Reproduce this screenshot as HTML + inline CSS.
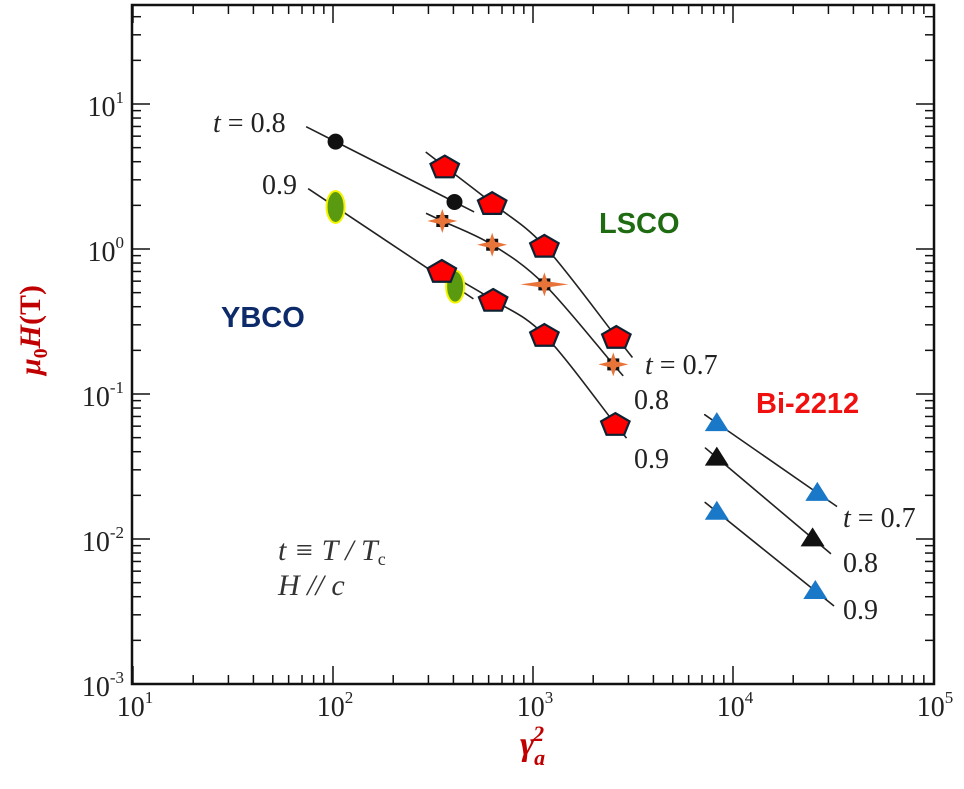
<!DOCTYPE html>
<html><head><meta charset="utf-8"><style>
body{margin:0;background:#fff;}
svg text{font-family:"Liberation Serif",serif;}
</style></head><body>
<svg id="chart" width="964" height="784" viewBox="0 0 964 784" xmlns="http://www.w3.org/2000/svg">
<rect x="0" y="0" width="964" height="784" fill="#fff"/>
<g id="axes"></g>
<g id="curves"></g>
<g id="marks"></g>
<g id="labels">
<text x="213" y="132" font-size="28" font-style="italic" fill="#222">t <tspan font-style="normal">= 0.8</tspan></text>
<text x="262" y="194" font-size="28" fill="#222">0.9</text>
<text x="645" y="374" font-size="28" font-style="italic" fill="#222">t <tspan font-style="normal">= 0.7</tspan></text>
<text x="634" y="409" font-size="28" fill="#222">0.8</text>
<text x="634" y="468" font-size="28" fill="#222">0.9</text>
<text x="843" y="527" font-size="28" font-style="italic" fill="#222">t <tspan font-style="normal">= 0.7</tspan></text>
<text x="843" y="572" font-size="28" fill="#222">0.8</text>
<text x="843" y="619" font-size="28" fill="#222">0.9</text>
<text x="278" y="560" font-size="30" font-style="italic" fill="#333">t ≡ T / T<tspan font-size="18" font-style="normal" dy="5">c</tspan></text>
<text x="278" y="595" font-size="30" font-style="italic" fill="#333">H // c</text>
<text x="599" y="233" font-size="29" font-weight="bold" fill="#1f6b12" style="font-family:'Liberation Sans',sans-serif">LSCO</text>
<text x="221" y="327" font-size="29" font-weight="bold" fill="#0d2a6b" style="font-family:'Liberation Sans',sans-serif">YBCO</text>
<text x="756" y="413" font-size="29" font-weight="bold" fill="#f01010" style="font-family:'Liberation Sans',sans-serif">Bi-2212</text>
<text transform="translate(40,330) rotate(-90)" text-anchor="middle" font-size="30" font-weight="bold" fill="#c00000"><tspan font-style="italic">μ</tspan><tspan font-size="20" dy="7">0</tspan><tspan dy="-7" font-style="italic">H</tspan>(T)</text>
<text x="520" y="755" font-size="34" font-weight="bold" font-style="italic" fill="#c00000">γ<tspan font-size="22" dy="10">a</tspan><tspan font-size="22" dx="-12" dy="-24">2</tspan></text>
</g>
</svg>
<script>
const xDecades=[1,2,3,4,5];
const yDecades=[1,0,-1,-2,-3];
// YBCO
const ybcoX08=[103,405];
const ybcoY08=[5.5,2.11];
const ybcoX09=[103,408];
const ybcoY09=[1.95,0.55];
// LSCO
const lscoX07=[362,625,1140,2610];
const lscoY07=[3.7,2.07,1.05,0.247];
const lscoX08=[352,625,1140,2520];
const lscoY08=[1.56,1.07,0.57,0.16];
const lscoX09=[350,632,1140,2580];
const lscoY09=[0.705,0.445,0.255,0.062];
// Bi-2212
const biX07=[8300,26400];
const biY07=[0.063,0.0208];
const biX08=[8300,25000];
const biY08=[0.0364,0.0101];
const biX09=[8300,25800];
const biY09=[0.0154,0.00438];

const NS="http://www.w3.org/2000/svg";
const X0=133,XPD=200,Y0=104,YPD=145;
const L=132,R=934,T=5,B=684;
function sx(v){return X0+(Math.log10(v)-1)*XPD;}
function sy(v){return Y0+(1-Math.log10(v))*YPD;}
function mk(tag,attrs,parent){const e=document.createElementNS(NS,tag);for(const k in attrs)e.setAttribute(k,attrs[k]);parent.appendChild(e);return e;}
const axes=document.getElementById('axes');
const frame=mk('rect',{x:L,y:T,width:R-L,height:B-T,fill:'none',stroke:'#111','stroke-width':2.5},axes);


for(let d=1;d<5;d++){for(let m=1;m<10;m++){const x=sx(m*Math.pow(10,d));const len=m===1?18:9;
const t1=mk('line',{x1:x,x2:x,y1:B,y2:B-len,stroke:'#111','stroke-width':1.5},axes);


const t2=mk('line',{x1:x,x2:x,y1:T,y2:T+len,stroke:'#111','stroke-width':1.5},axes);

}}
xDecades.forEach(d=>{const t=mk('text',{x:sx(Math.pow(10,d))+2,y:716,'font-size':28,'text-anchor':'middle',fill:'#222'},axes);


t.innerHTML='10<tspan font-size="17" dy="-13">'+d+'</tspan>';});
for(let d=-3;d<2;d++){for(let m=1;m<10;m++){const v=m*Math.pow(10,d);const y=sy(v);if(y<T+1)continue;const len=m===1?18:9;
const t1=mk('line',{x1:L,x2:L+len,y1:y,y2:y,stroke:'#111','stroke-width':1.5},axes);


const t2=mk('line',{x1:R,x2:R-len,y1:y,y2:y,stroke:'#111','stroke-width':1.5},axes);

}}
yDecades.forEach(d=>{const t=mk('text',{x:124,y:sy(Math.pow(10,d))+12,'font-size':28,'text-anchor':'end',fill:'#222'},axes);


t.innerHTML='10<tspan font-size="17" dy="-13">'+d+'</tspan>';});

const curves=document.getElementById('curves');
function curve(xs,ys,extL,extR,name){
 let p=xs.map((x,i)=>[sx(x),sy(ys[i])]);
 const a=p[0],b=p[1],n=p.length,c=p[n-2],e=p[n-1];
 const d1=Math.hypot(b[0]-a[0],b[1]-a[1]),d2=Math.hypot(e[0]-c[0],e[1]-c[1]);
 p.unshift([a[0]-(b[0]-a[0])/d1*extL,a[1]-(b[1]-a[1])/d1*extL]);
 p.push([e[0]+(e[0]-c[0])/d2*extR,e[1]+(e[1]-c[1])/d2*extR]);
 let s='M'+p[0][0]+','+p[0][1];
 for(let i=0;i<p.length-1;i++){const p0=p[Math.max(0,i-1)],p1=p[i],p2=p[i+1],p3=p[Math.min(p.length-1,i+2)];
  s+=' C'+(p1[0]+(p2[0]-p0[0])/6)+','+(p1[1]+(p2[1]-p0[1])/6)+' '+(p2[0]-(p3[0]-p1[0])/6)+','+(p2[1]-(p3[1]-p1[1])/6)+' '+p2[0]+','+p2[1];}
 const el=mk('path',{d:s,fill:'none',stroke:'#222','stroke-width':1.6},curves);
 
 }
curve(ybcoX08,ybcoY08,33,22,'curve-ybco-t08');
curve(ybcoX09,ybcoY09,33,22,'curve-ybco-t09');
curve([ybcoX09[1]].concat(lscoX09),[ybcoY09[1]].concat(lscoY09),0,18,'curve-lsco-t09');
curve(lscoX07,lscoY07,24,26,'curve-lsco-t07');
curve(lscoX08,lscoY08,18,15,'curve-lsco-t08');
curve(biX07,biY07,14,24,'curve-bi-t07');
curve(biX08,biY08,14,24,'curve-bi-t08');
curve(biX09,biY09,14,24,'curve-bi-t09');

const marks=document.getElementById('marks');
function circle(xs,ys,name){xs.forEach((x,i)=>{const el=mk('circle',{cx:sx(x),cy:sy(ys[i]),r:8,fill:'#111'},marks);
 
 });}
function ellipse(xs,ys,name){xs.forEach((x,i)=>{const el=mk('ellipse',{cx:sx(x),cy:sy(ys[i]),rx:9,ry:16,fill:'#5a9a10',stroke:'#f4f400','stroke-width':2},marks);
 
 });}
function pent(xs,ys,name){xs.forEach((x,i)=>{const cx=sx(x),cy=sy(ys[i]);let pts=[];for(let k=0;k<5;k++){const a=-Math.PI/2+k*2*Math.PI/5;pts.push((cx+15*Math.cos(a))+','+(cy+12*Math.sin(a)+1));}
 const el=mk('polygon',{points:pts.join(' '),fill:'#ff0000',stroke:'#0c2233','stroke-width':2.2},marks);
 
 });}
function star(xs,ys,name){xs.forEach((x,i)=>{const cx=sx(x),cy=sy(ys[i]);
 const sq=mk('rect',{x:cx-6,y:cy-6,width:12,height:12,fill:'#111'},marks);
 
 
 const w=i===2?24:15;
 const el=mk('polygon',{points:`${cx-w},${cy} ${cx-3},${cy-3} ${cx},${cy-12} ${cx+3},${cy-3} ${cx+w},${cy} ${cx+3},${cy+3} ${cx},${cy+12} ${cx-3},${cy+3}`,fill:'#e8743a'},marks);
 
 });}
function tri(xs,ys,color,name){xs.forEach((x,i)=>{const cx=sx(x),cy=sy(ys[i]);
 const el=mk('polygon',{points:`${cx},${cy-11} ${cx+12},${cy+8} ${cx-12},${cy+8}`,fill:color},marks);
 
 });}
circle(ybcoX08,ybcoY08,'ybco-t08-point');
ellipse(ybcoX09,ybcoY09,'ybco-t09-point');
pent(lscoX07,lscoY07,'lsco-t07-point');
pent(lscoX09,lscoY09,'lsco-t09-point');
star(lscoX08,lscoY08,'lsco-t08-point');
tri(biX07,biY07,'#1a78c8','bi-t07-point');
tri(biX08,biY08,'#111','bi-t08-point');
tri(biX09,biY09,'#1a78c8','bi-t09-point');
</script>
</body></html>
